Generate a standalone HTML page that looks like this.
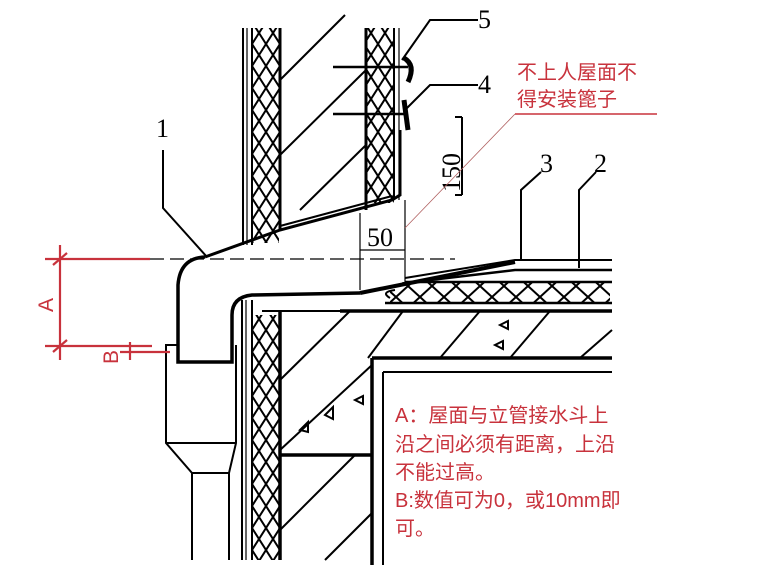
<!DOCTYPE html>
<html><head><meta charset="utf-8"><style>
html,body{margin:0;padding:0;background:#fff;width:760px;height:570px;overflow:hidden}
svg{display:block}
.r{font-family:"Liberation Sans","Noto Sans CJK SC",sans-serif;fill:#c8323c}
.n{font-family:"Liberation Serif",serif;fill:#000;font-size:26px}
</style></head><body>
<svg width="760" height="570" viewBox="0 0 760 570" xmlns="http://www.w3.org/2000/svg">
<defs>
<pattern id="xh" width="14" height="22" patternUnits="userSpaceOnUse">
<path d="M0 0 L14 22 M14 0 L0 22" stroke="#000" stroke-width="2"/>
</pattern>
<pattern id="xh2" width="24" height="22" patternUnits="userSpaceOnUse">
<path d="M0 0 L24 22 M24 0 L0 22" stroke="#000" stroke-width="2"/>
</pattern>
</defs>
<g fill="none" stroke="#000">
<!-- upper left wall -->
<line x1="243" y1="28" x2="243" y2="245" stroke-width="2"/>
<line x1="247" y1="28" x2="247" y2="245" stroke-width="1.2"/>
<rect x="252" y="28" width="27" height="215" fill="url(#xh)" stroke="none"/>
<line x1="252" y1="28" x2="252" y2="245" stroke-width="2"/>
<line x1="280" y1="28" x2="280" y2="230" stroke-width="3"/>
<!-- upper right wall -->
<rect x="367" y="28" width="27" height="175" fill="url(#xh)" stroke="none"/>
<line x1="366" y1="28" x2="366" y2="210" stroke-width="3"/>
<line x1="394" y1="28" x2="394" y2="200" stroke-width="2"/>
<line x1="399" y1="28" x2="399" y2="200" stroke-width="1.2"/>
<!-- hatch diagonals upper -->
<line x1="280" y1="80" x2="345" y2="15" stroke-width="2"/>
<line x1="280" y1="155" x2="366" y2="70" stroke-width="2"/>
<line x1="300" y1="210" x2="366" y2="145" stroke-width="2"/>
<!-- flashing arms -->
<line x1="333" y1="67" x2="408" y2="67" stroke-width="2.5"/>
<line x1="333" y1="114" x2="408" y2="114" stroke-width="2.5"/>
<path d="M404 58 Q416 65 408 82" stroke-width="5"/>
<path d="M404 100 L408 130" stroke-width="5"/>
<!-- gutter -->
<path d="M205 257 L280 230 L392 200 L400 195 L400 130" stroke-width="3"/>
<path d="M280 226 L392 196" stroke-width="2"/>
<path d="M205 257 Q180 258 178 285 L178 362 L232 362 L232 315 Q232 297 252 295 L360 293" stroke-width="3.5"/>
<path d="M360 293 L405 284 L515 262" stroke-width="4"/>
<line x1="360" y1="213" x2="360" y2="290" stroke-width="1.2"/>
<line x1="405" y1="200" x2="405" y2="285" stroke-width="1.2"/>
<!-- dashed -->
<line x1="150" y1="259" x2="455" y2="259" stroke-width="1.2" stroke-dasharray="14 6"/>
<!-- roof layers -->
<path d="M405 278 L515 260 L612 260" stroke-width="2"/>
<path d="M405 283 L515 270 L612 270" stroke-width="2.5"/>
<rect x="390" y="282" width="220" height="21" fill="url(#xh2)" stroke="none"/>
<path d="M405 282 L612 282 M385 303 L612 303" stroke-width="2.5"/>
<path d="M390 298 Q380 292 395 290" stroke-width="2"/>
<line x1="340" y1="311" x2="612" y2="311" stroke-width="3.5"/>
<line x1="372" y1="358" x2="612" y2="358" stroke-width="3.5"/>
<line x1="383" y1="372" x2="612" y2="372" stroke-width="2"/>
<line x1="372" y1="358" x2="372" y2="565" stroke-width="3.5"/>
<line x1="383" y1="372" x2="383" y2="565" stroke-width="2"/>
<line x1="368" y1="358" x2="403" y2="311" stroke-width="2"/>
<line x1="440" y1="358" x2="480" y2="311" stroke-width="2"/>
<line x1="510" y1="358" x2="550" y2="311" stroke-width="2"/>
<line x1="580" y1="358" x2="612" y2="330" stroke-width="2"/>
<!-- lower wall -->
<line x1="242" y1="300" x2="242" y2="560" stroke-width="2"/>
<line x1="246" y1="300" x2="246" y2="560" stroke-width="1.2"/>
<rect x="253" y="315" width="27" height="245" fill="url(#xh)" stroke="none"/>
<line x1="252" y1="300" x2="252" y2="560" stroke-width="2"/>
<line x1="280" y1="312" x2="280" y2="560" stroke-width="3.5"/>
<line x1="262" y1="311" x2="340" y2="311" stroke-width="2"/>
<line x1="280" y1="455" x2="372" y2="455" stroke-width="3.5"/>
<line x1="280" y1="380" x2="350" y2="311" stroke-width="2"/>
<line x1="280" y1="450" x2="372" y2="365" stroke-width="2"/>
<line x1="280" y1="530" x2="355" y2="455" stroke-width="2"/>
<line x1="325" y1="560" x2="372" y2="513" stroke-width="2"/>
<path d="M300 430 l8 -8 l0 10 z M325 415 l8 -8 l0 12 z M355 400 l8 -4 l0 8 z M500 325 l8 -4 l0 8 z M495 345 l8 -4 l0 8 z" stroke-width="2"/>
<!-- hopper -->
<path d="M178 345 L166 345 L166 443 L192 473 L192 560 M236 345 L236 443 L229 473 L229 560 M166 443 L236 443 M192 473 L229 473" stroke-width="2"/>
<!-- leaders -->
<path d="M163 150 L163 208 L207 257" stroke-width="2"/>
<path d="M402 60 L430 20 L478 20" stroke-width="2"/>
<path d="M405 110 L430 85 L478 85" stroke-width="2"/>
<path d="M521 260 L521 190 L541 172" stroke-width="2"/>
<path d="M579 268 L579 190 L596 172" stroke-width="2"/>
<!-- 150 dim -->
<path d="M462 117 L462 195 M455 117 L462 117 M455 195 L462 195" stroke-width="2"/>
<path d="M360 250 L405 250" stroke-width="1.2"/>
</g>
<text class="n" x="156" y="137">1</text>
<text class="n" x="478" y="28">5</text>
<text class="n" x="478" y="93">4</text>
<text class="n" x="540" y="172">3</text>
<text class="n" x="594" y="172">2</text>
<text class="n" x="367" y="246">50</text>
<text class="n" transform="translate(460 192) rotate(-90)">150</text>
<!-- red annotations -->
<g stroke="#c8323c" stroke-width="2.2" fill="none">
<line x1="45" y1="259" x2="150" y2="259"/>
<line x1="45" y1="346" x2="152" y2="346"/>
<line x1="60" y1="245" x2="60" y2="360"/>
<line x1="130" y1="342" x2="130" y2="360"/>
<line x1="120" y1="352" x2="170" y2="352"/>
<line x1="53" y1="265" x2="67" y2="253"/>
<line x1="53" y1="352" x2="67" y2="340"/>
<line x1="515" y1="114" x2="657" y2="114" stroke-width="1.4"/>
<line x1="515" y1="114" x2="405" y2="228" stroke-width="0.8" stroke="#b06060"/>
</g>
<text class="r" font-size="21" transform="translate(53 312) rotate(-90)">A</text>
<text class="r" font-size="21" transform="translate(118 364) rotate(-90)">B</text>
<text class="r" x="517" y="79" font-size="20">不上人屋面不</text>
<text class="r" x="517" y="106" font-size="20">得安装篦子</text>
<g class="r" font-size="20">
<text x="395" y="422">A：屋面与立管接水斗上</text>
<text x="395" y="451">沿之间必须有距离，上沿</text>
<text x="395" y="479">不能过高。</text>
<text x="395" y="507">B:数值可为0，或10mm即</text>
<text x="395" y="535">可。</text>
</g>
</svg>
</body></html>
